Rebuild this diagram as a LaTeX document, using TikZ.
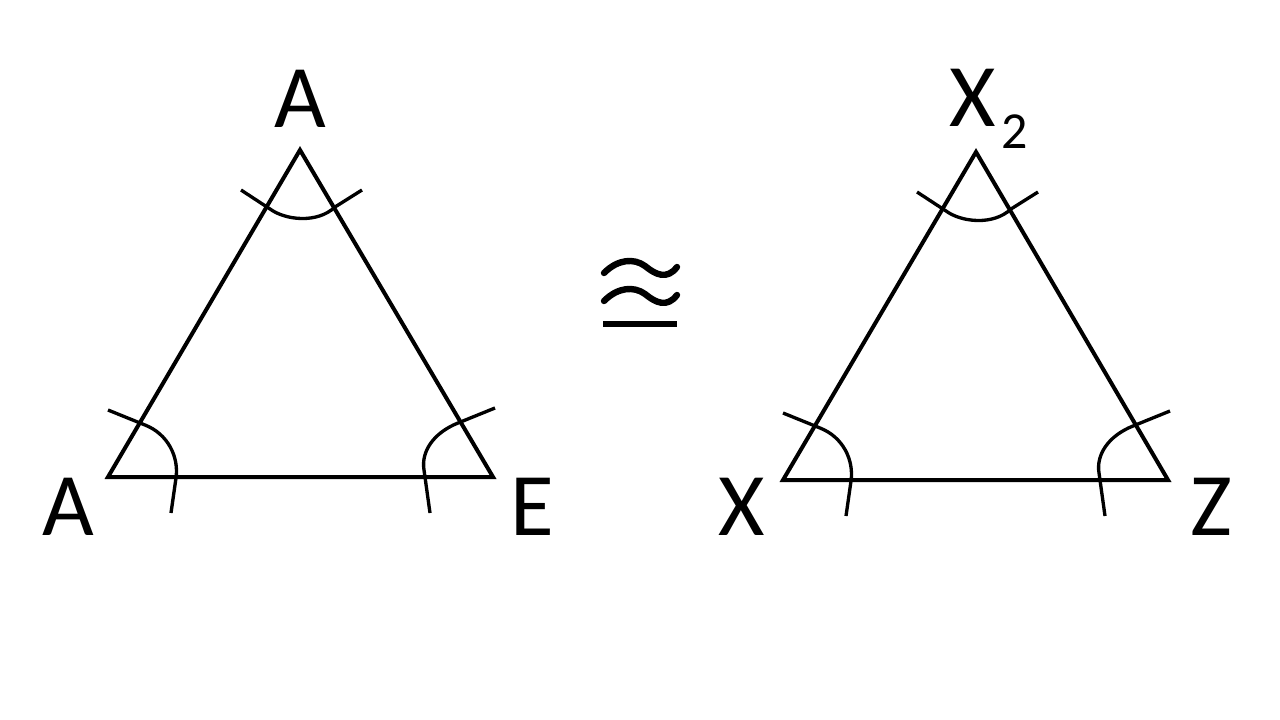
\documentclass[tikz,border=0pt]{standalone}
\usepackage{fontspec}
\setmainfont{Carlito}
\usetikzlibrary{calc}

\tikzset{
    side/.style={line width=3pt, line join=miter, black},
    mark arc/.style={line width=2.5pt, black},
    letter/.style={inner sep=0pt, font=\fontsize{67}{67}\selectfont, text=black},
    wave/.style={line width=4.8pt, line cap=round, black}
}

\begin{document}
\begin{tikzpicture}[x=0.75pt, y=-0.75pt]

\useasboundingbox (0, 0) rectangle (1280, 720);

\coordinate (a1) at (300, 150);
\coordinate (a2) at (108, 477);
\coordinate (a3) at (493, 477);
\coordinate (x1) at (976, 152);
\coordinate (x2) at (783, 480);
\coordinate (x3) at (1168, 480);

\node[letter] (labelA1) at (300, 99) {A};
\node[letter] (labelA2) at (68, 507) {A};
\node[letter] (labelE) at (532, 507) {E};
\node[letter, anchor=west] (labelX1) at (949, 109) {X\hspace{4.5pt}\raisebox{-17pt}{\fontsize{39}{39}\selectfont 2}};
\node[letter] (labelX2) at (742, 507) {X};
\node[letter] (labelZ) at (1211, 507) {Z};

\draw[side] (a1) -- (a2) -- (a3) -- cycle;
\draw[side] (x1) -- (x2) -- (x3) -- cycle;

\draw[mark arc] ($(a1)+(-59, 40)$) -- ($(a1)+(-30, 59)$) .. controls ($(a1)+(-15, 70)$) and ($(a1)+(17, 74)$) .. ($(a1)+(35, 57)$) -- ($(a1)+(62, 40)$);
\draw[mark arc] ($(a2)+(0, -67)$) -- ($(a2)+(37, -52)$) .. controls ($(a2)+(60, -43)$) and ($(a2)+(71, -20)$) .. ($(a2)+(68, 1)$) -- ($(a2)+(63, 36)$);
\draw[mark arc] ($(a3)+(2, -69)$) -- ($(a3)+(-35, -54)$) .. controls ($(a3)+(-60, -44)$) and ($(a3)+(-72, -25)$) .. ($(a3)+(-69, -7)$) -- ($(a3)+(-63, 36)$);

\draw[mark arc] ($(x1)+(-59, 40)$) -- ($(x1)+(-30, 59)$) .. controls ($(x1)+(-15, 70)$) and ($(x1)+(17, 74)$) .. ($(x1)+(35, 57)$) -- ($(x1)+(62, 40)$);
\draw[mark arc] ($(x2)+(0, -67)$) -- ($(x2)+(37, -52)$) .. controls ($(x2)+(60, -43)$) and ($(x2)+(71, -20)$) .. ($(x2)+(68, 1)$) -- ($(x2)+(63, 36)$);
\draw[mark arc] ($(x3)+(2, -69)$) -- ($(x3)+(-35, -54)$) .. controls ($(x3)+(-60, -44)$) and ($(x3)+(-72, -25)$) .. ($(x3)+(-69, -7)$) -- ($(x3)+(-63, 36)$);

\draw[wave] (604, 273) .. controls (618, 259) and (634, 258) .. (645, 266) .. controls (656, 275) and (667, 280) .. (677, 267);
\draw[wave] (604, 301) .. controls (618, 287) and (634, 286) .. (645, 294) .. controls (656, 303) and (667, 308) .. (677, 295);
\draw[line width=4.6pt, black] (603, 324) -- (677, 324);

\end{tikzpicture}
\end{document}
